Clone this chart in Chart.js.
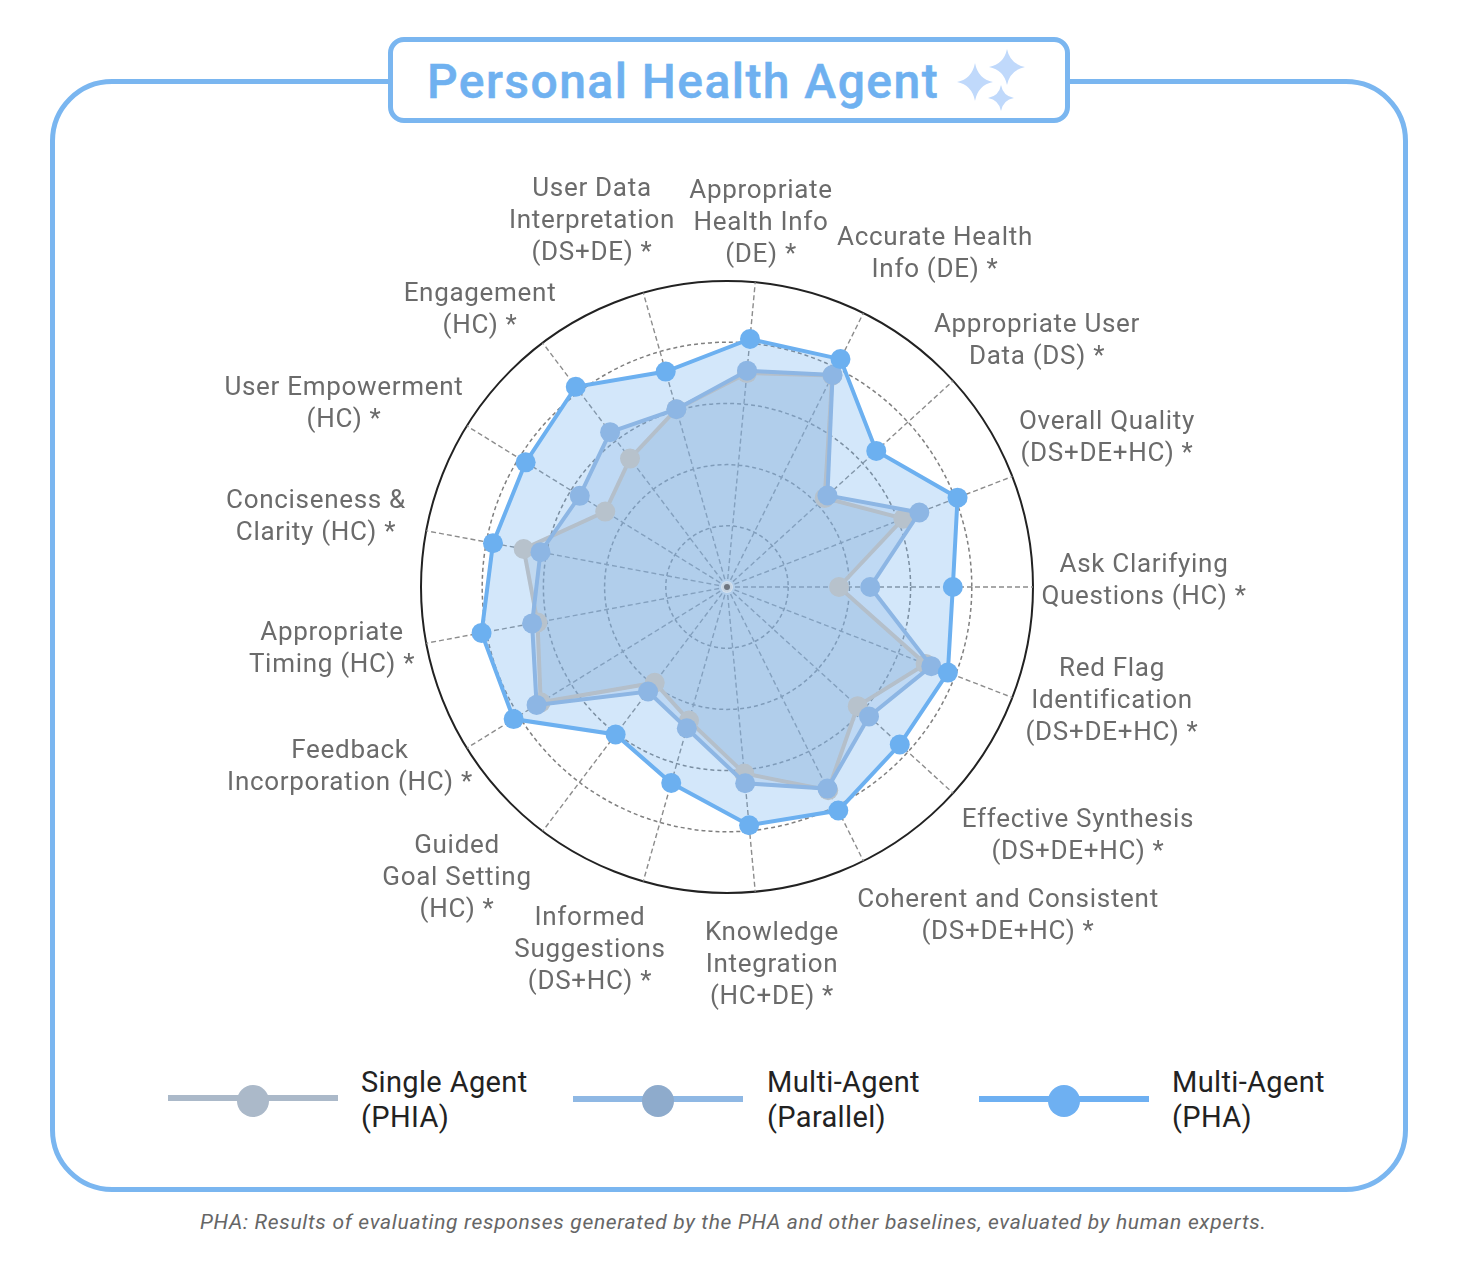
<!DOCTYPE html>
<html>
<head>
<meta charset="utf-8">
<script src="https://cdn.jsdelivr.net/npm/chart.js@4"></script>
<style>
  body { margin: 0; background: #fff; width: 1476px; height: 1278px; position: relative; overflow: hidden; font-family: Roboto, sans-serif; }
  #frame { position: absolute; left: 50px; top: 79px; width: 1348px; height: 1103px; border: 5px solid #7ab6f0; border-radius: 62px; }
  #titlebox { position: absolute; left: 388px; top: 37px; width: 672px; height: 76px; border: 5px solid #7ab6f0; border-radius: 16px; background: #fff; }
  #title { position: absolute; left: 427px; top: 53px; font-size: 48px; line-height: 58px; font-weight: 500; color: #6fb1f0; letter-spacing: 1.45px; -webkit-text-stroke: 0.5px #6fb1f0; white-space: nowrap; }
  #sparkles { position: absolute; left: 950px; top: 40px; }
  .leg-line { position: absolute; height: 6px; width: 170px; }
  .leg-dot { position: absolute; width: 32px; height: 32px; border-radius: 50%; }
  .leg-text { position: absolute; font-size: 29px; line-height: 35px; color: #222; letter-spacing: 0.35px; white-space: nowrap; }
  #caption { position: absolute; left: 200px; top: 1209px; font-size: 21px; line-height: 26px; font-style: italic; color: #666; letter-spacing: 0.69px; white-space: nowrap; }
  canvas { position: absolute; left: 0; top: 0; }
</style>
</head>
<body>
<div id="frame"></div>
<div id="titlebox"></div>
<div id="title">Personal Health Agent</div>
<svg id="sparkles" width="90" height="80" viewBox="0 0 90 80">
  <path fill="#c0d9fb" d="M57 9 Q60 24 75 27 Q60 30 57 45 Q54 30 39 27 Q54 24 57 9Z"/>
  <path fill="#c0d9fb" d="M25 23 Q28 39 43 42 Q28 45 25 61 Q22 45 7 42 Q22 39 25 23Z"/>
  <path fill="#c0d9fb" d="M51 45 Q53 56 64 58 Q53 60 51 71 Q49 60 38 58 Q49 56 51 45Z"/>
</svg>

<div class="leg-line" style="left:168px;top:1095px;background:#abb9c9"></div>
<div class="leg-dot" style="left:237px;top:1085px;background:#abb9c9"></div>
<div class="leg-text" style="left:361px;top:1065px">Single Agent<br>(PHIA)</div>
<div class="leg-line" style="left:573px;top:1096px;background:#8fb8e4"></div>
<div class="leg-dot" style="left:642px;top:1085px;background:#8eabcc"></div>
<div class="leg-text" style="left:767px;top:1065px">Multi-Agent<br>(Parallel)</div>
<div class="leg-line" style="left:979px;top:1096px;background:#6eb0f2"></div>
<div class="leg-dot" style="left:1048px;top:1085px;background:#6eb0f2"></div>
<div class="leg-text" style="left:1172px;top:1065px">Multi-Agent<br>(PHA)</div>

<div id="caption">PHA: Results of evaluating responses generated by the PHA and other baselines, evaluated by human experts.</div>

<canvas id="radar" width="1476" height="1278"></canvas>

<script>
// categories, clockwise from the east axis
const categories = [
    ['Ask Clarifying', 'Questions (HC) *'],
    ['Red Flag', 'Identification', '(DS+DE+HC) *'],
    ['Effective Synthesis', '(DS+DE+HC) *'],
    ['Coherent and Consistent', '(DS+DE+HC) *'],
    ['Knowledge', 'Integration', '(HC+DE) *'],
    ['Informed', 'Suggestions', '(DS+HC) *'],
    ['Guided', 'Goal Setting', '(HC) *'],
    ['Feedback', 'Incorporation (HC) *'],
    ['Appropriate', 'Timing (HC) *'],
    ['Conciseness &', 'Clarity (HC) *'],
    ['User Empowerment', '(HC) *'],
    ['Engagement', '(HC) *'],
    ['User Data', 'Interpretation', '(DS+DE) *'],
    ['Appropriate', 'Health Info', '(DE) *'],
    ['Accurate Health', 'Info (DE) *'],
    ['Appropriate User', 'Data (DS) *'],
    ['Overall Quality', '(DS+DE+HC) *']
];

const singleAgent = [1.83, 3.48, 2.89, 3.71, 3.06, 2.27, 1.96, 3.58, 3.15, 3.38, 2.34, 2.63, 3.02, 3.51, 3.86, 2.16, 3.09];
const multiParallel = [2.34, 3.58, 3.14, 3.68, 3.22, 2.40, 2.14, 3.66, 3.24, 3.10, 2.83, 3.17, 3.02, 3.55, 3.87, 2.22, 3.37];
const multiPha = [3.69, 3.87, 3.82, 4.08, 3.91, 3.33, 3.02, 4.10, 4.08, 3.89, 3.87, 4.10, 3.66, 4.07, 4.16, 3.30, 4.04];

// where each label block sits: centre x, y of its first line
const labelSpots = [
    [1144, 565], [1112, 669], [1078, 820], [1008, 900], [772, 933], [590, 918],
    [457, 846], [350, 751], [332, 633], [316, 501], [344, 388], [480, 294],
    [592, 189], [761, 191], [935, 238], [1037, 325], [1107, 422]
];

const spokeLabels = {
    id: 'spokeLabels',
    afterDraw(chart) {
        const ctx = chart.ctx;
        ctx.save();
        ctx.font = '26px Roboto';
        ctx.letterSpacing = '0.7px';
        ctx.fillStyle = '#6b6b6b';
        ctx.textAlign = 'center';
        ctx.textBaseline = 'middle';
        categories.forEach((lines, i) => {
            lines.forEach((line, j) => {
                ctx.fillText(line, labelSpots[i][0], labelSpots[i][1] + j * 32);
            });
        });
        ctx.restore();
    }
};

const centerDot = {
    id: 'centerDot',
    afterDatasetsDraw(chart) {
        const r = chart.scales.r;
        const ctx = chart.ctx;
        ctx.save();
        ctx.beginPath();
        ctx.arc(r.xCenter, r.yCenter, 6, 0, Math.PI * 2);
        ctx.fillStyle = 'rgba(225,232,240,0.7)';
        ctx.fill();
        ctx.beginPath();
        ctx.arc(r.xCenter, r.yCenter, 3, 0, Math.PI * 2);
        ctx.fillStyle = '#6f7680';
        ctx.fill();
        ctx.restore();
    }
};

new Chart(document.getElementById('radar'), {
    type: 'radar',
    data: {
        labels: categories.map(c => c.join(' ')),
        datasets: [
            {
                label: 'Multi-Agent (PHA)',
                data: multiPha,
                borderColor: '#6cb0f0',
                backgroundColor: 'rgba(110,175,240,0.30)',
                pointBackgroundColor: '#6cb0f0',
                fill: true
            },
            {
                label: 'Multi-Agent (Parallel)',
                data: multiParallel,
                borderColor: '#8db6e4',
                backgroundColor: 'rgba(140,175,220,0.25)',
                pointBackgroundColor: '#8db6e4',
                fill: true
            },
            {
                label: 'Single Agent (PHIA)',
                data: singleAgent,
                borderColor: '#b4bfca',
                backgroundColor: 'rgba(150,170,195,0.25)',
                pointBackgroundColor: '#b7c2cc',
                fill: true
            }
        ]
    },
    options: {
        responsive: false,
        animation: false,
        layout: {padding: {left: 421, right: 443, top: 281, bottom: 384}},
        elements: {
            line: {borderWidth: 4, tension: 0},
            point: {radius: 10, borderWidth: 0, hoverRadius: 10}
        },
        plugins: {
            legend: {display: false},
            tooltip: {enabled: false},
            filler: {drawTime: 'beforeDatasetsDraw'}
        },
        scales: {
            r: {
                min: 0,
                max: 5,
                startAngle: 90,
                ticks: {display: false, stepSize: 1},
                pointLabels: {display: false},
                grid: {
                    circular: true,
                    color: ctx => ctx.index === 5 ? '#222' : '#808080',
                    lineWidth: ctx => ctx.index === 5 ? 2 : 1.5
                },
                border: {dash: ctx => ctx.index === 5 ? [] : [4, 3]},
                angleLines: {color: '#8c8c8c', lineWidth: 1.4, borderDash: [5, 3]}
            }
        }
    },
    plugins: [spokeLabels, centerDot]
});
</script>
</body>
</html>
